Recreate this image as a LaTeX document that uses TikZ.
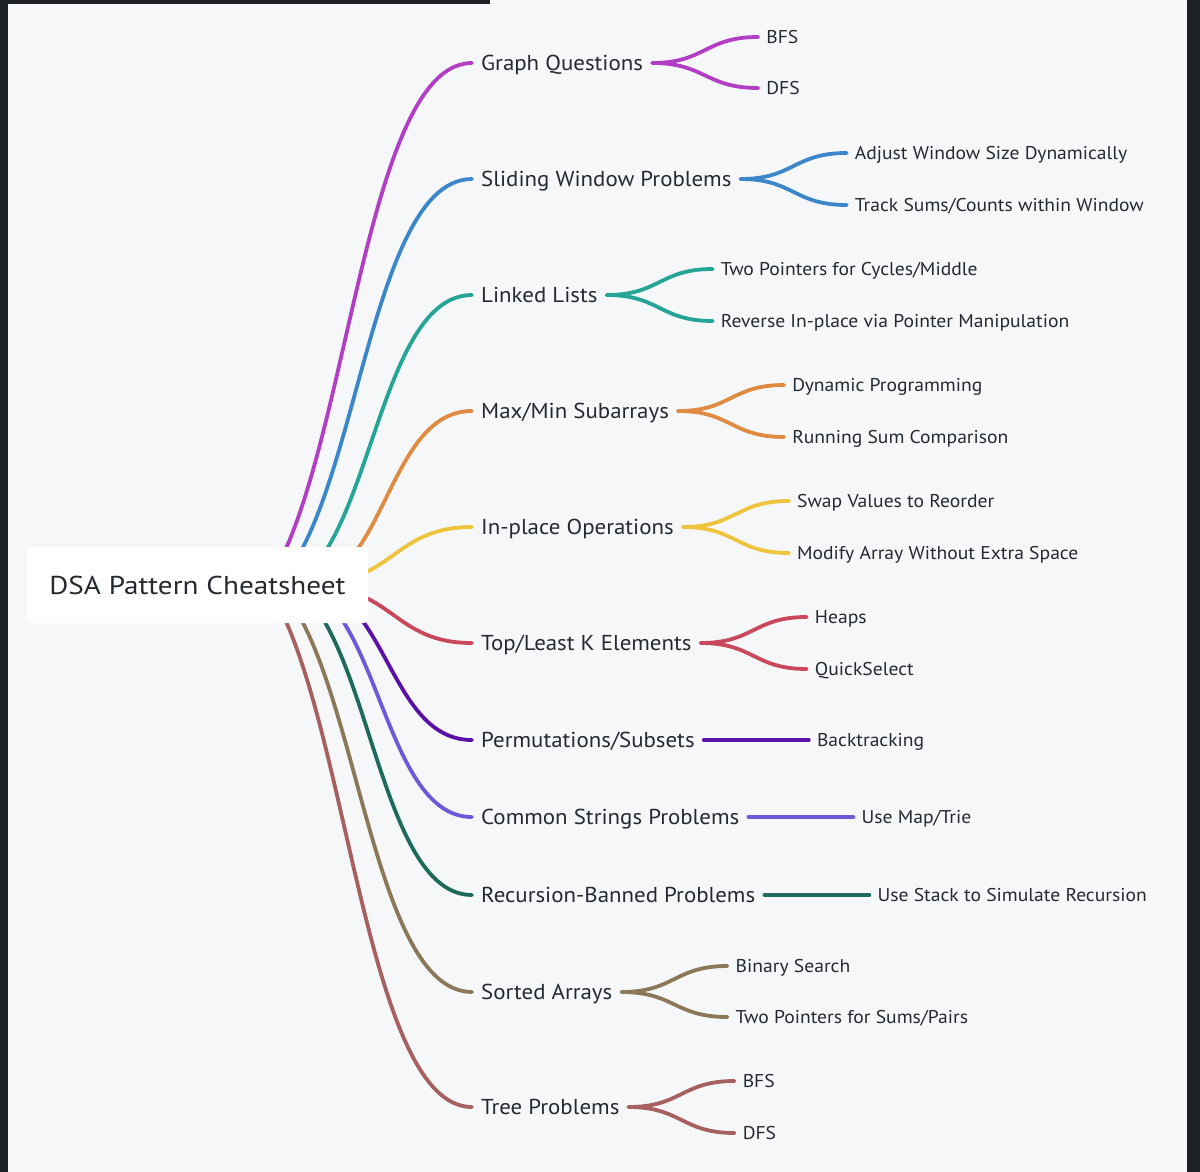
\documentclass[tikz,border=0pt]{standalone}
\usepackage{fontspec}
\setmainfont[FakeStretch=1.06]{PT Sans}
\newfontfamily\rootfont[FakeStretch=1.13]{PT Sans}
\usetikzlibrary{calc}
\pgfdeclarelayer{bg}
\pgfdeclarelayer{links}
\pgfsetlayers{bg,links,main}
\definecolor{ink}{HTML}{252A31}
\definecolor{paper}{HTML}{F6F7F9}
\definecolor{frame}{HTML}{1D2024}
\definecolor{cGraph}{HTML}{B23FC3}
\definecolor{cSlide}{HTML}{3C87C9}
\definecolor{cLink}{HTML}{26A596}
\definecolor{cMax}{HTML}{E08B42}
\definecolor{cInpl}{HTML}{EEC43C}
\definecolor{cTop}{HTML}{C9485B}
\definecolor{cPerm}{HTML}{5A11A5}
\definecolor{cStr}{HTML}{6B5BD9}
\definecolor{cRec}{HTML}{1E6B5D}
\definecolor{cSort}{HTML}{8A7858}
\definecolor{cTree}{HTML}{A5605F}
\newcommand\mmlink[3]{\draw[lk,#1] let \p1=(#2), \p2=(#3) in (\p1) .. controls ({(\x1+\x2)/2},\y1) and ({(\x1+\x2)/2},\y2) .. (\p2);}
\begin{document}
\begin{tikzpicture}[x=1pt,y=-1pt,
  lone/.style={anchor=west, inner xsep=9pt, inner ysep=0pt, text height=15pt, text depth=0pt, font=\fontsize{21.6}{25}\selectfont, text=ink},
  ltwo/.style={anchor=west, inner xsep=8pt, inner ysep=0pt, text height=13pt, text depth=0pt, font=\fontsize{18.5}{22}\selectfont, text=ink},
  rootbox/.style={fill=white, rounded corners=4pt, minimum width=341pt, minimum height=76pt, inner sep=0pt, text height=18pt, text depth=0pt, font=\rootfont\fontsize{25.8}{30}\selectfont, text=ink},
  lk/.style={line width=3.8pt, line cap=round}]
\useasboundingbox (0,0) rectangle (1200,1172);
\begin{pgfonlayer}{bg}
  \fill[frame] (0,0) rectangle (1200,1172);
  \fill[paper] (8,4) rectangle (1187,1172);
  \fill[paper] (490,0) rectangle (1187,4);
\end{pgfonlayer}

% root
\node[rootbox] (root) at (197.5,585) {DSA Pattern Cheatsheet};

% level 1
\node[lone] (g)  at (472,63)   {Graph Questions};
\node[lone] (sw) at (472,179)  {Sliding Window Problems};
\node[lone] (ll) at (472,295)  {Linked Lists};
\node[lone] (mm) at (472,411)  {Max/Min Subarrays};
\node[lone] (ip) at (472,527)  {In-place Operations};
\node[lone] (tk) at (472,643)  {Top/Least K Elements};
\node[lone] (ps) at (472,740)  {Permutations/Subsets};
\node[lone] (cs) at (472,817)  {Common Strings Problems};
\node[lone] (rb) at (472,895)  {Recursion-Banned Problems};
\node[lone] (sa) at (472,992)  {Sorted Arrays};
\node[lone] (tp) at (472,1107) {Tree Problems};

% level 2
\node[ltwo] (g1)  at ($(g.east)+(106,-26)$)  {BFS};
\node[ltwo] (g2)  at ($(g.east)+(106,25)$)   {DFS};
\node[ltwo] (sw1) at ($(sw.east)+(106,-26)$) {Adjust Window Size Dynamically};
\node[ltwo] (sw2) at ($(sw.east)+(106,26)$)  {Track Sums/Counts within Window};
\node[ltwo] (ll1) at ($(ll.east)+(106,-26)$) {Two Pointers for Cycles/Middle};
\node[ltwo] (ll2) at ($(ll.east)+(106,26)$)  {Reverse In-place via Pointer Manipulation};
\node[ltwo] (mm1) at ($(mm.east)+(106,-26)$) {Dynamic Programming};
\node[ltwo] (mm2) at ($(mm.east)+(106,26)$)  {Running Sum Comparison};
\node[ltwo] (ip1) at ($(ip.east)+(106,-26)$) {Swap Values to Reorder};
\node[ltwo] (ip2) at ($(ip.east)+(106,26)$)  {Modify Array Without Extra Space};
\node[ltwo] (tk1) at ($(tk.east)+(106,-26)$) {Heaps};
\node[ltwo] (tk2) at ($(tk.east)+(106,26)$)  {QuickSelect};
\node[ltwo] (ps1) at ($(ps.east)+(105,0)$)   {Backtracking};
\node[ltwo] (cs1) at ($(cs.east)+(105,0)$)   {Use Map/Trie};
\node[ltwo] (rb1) at ($(rb.east)+(105,0)$)   {Use Stack to Simulate Recursion};
\node[ltwo] (sa1) at ($(sa.east)+(106,-26)$) {Binary Search};
\node[ltwo] (sa2) at ($(sa.east)+(106,25)$)  {Two Pointers for Sums/Pairs};
\node[ltwo] (tp1) at ($(tp.east)+(106,-26)$) {BFS};
\node[ltwo] (tp2) at ($(tp.east)+(106,26)$)  {DFS};

% start points of root links (hidden under the root box)
\coordinate (sg)  at (218,617);
\coordinate (ssw) at (240,601);
\coordinate (sll) at (270,590);
\coordinate (smm) at (300,585);
\coordinate (sip) at (315,583);
\coordinate (stk) at (315,587);
\coordinate (sps) at (303,585);
\coordinate (scs) at (287,583);
\coordinate (srb) at (267,578);
\coordinate (ssa) at (240,569);
\coordinate (stp) at (218,553);

\begin{pgfonlayer}{links}
  \mmlink{cGraph}{sg}{g.west}
  \mmlink{cSlide}{ssw}{sw.west}
  \mmlink{cLink}{sll}{ll.west}
  \mmlink{cMax}{smm}{mm.west}
  \mmlink{cInpl}{sip}{ip.west}
  \mmlink{cTop}{stk}{tk.west}
  \mmlink{cPerm}{sps}{ps.west}
  \mmlink{cStr}{scs}{cs.west}
  \mmlink{cRec}{srb}{rb.west}
  \mmlink{cSort}{ssa}{sa.west}
  \mmlink{cTree}{stp}{tp.west}

  \mmlink{cGraph}{g.east}{g1.west}
  \mmlink{cGraph}{g.east}{g2.west}
  \mmlink{cSlide}{sw.east}{sw1.west}
  \mmlink{cSlide}{sw.east}{sw2.west}
  \mmlink{cLink}{ll.east}{ll1.west}
  \mmlink{cLink}{ll.east}{ll2.west}
  \mmlink{cMax}{mm.east}{mm1.west}
  \mmlink{cMax}{mm.east}{mm2.west}
  \mmlink{cInpl}{ip.east}{ip1.west}
  \mmlink{cInpl}{ip.east}{ip2.west}
  \mmlink{cTop}{tk.east}{tk1.west}
  \mmlink{cTop}{tk.east}{tk2.west}
  \draw[lk,cPerm] (ps.east) -- (ps1.west);
  \draw[lk,cStr] (cs.east) -- (cs1.west);
  \draw[lk,cRec] (rb.east) -- (rb1.west);
  \mmlink{cSort}{sa.east}{sa1.west}
  \mmlink{cSort}{sa.east}{sa2.west}
  \mmlink{cTree}{tp.east}{tp1.west}
  \mmlink{cTree}{tp.east}{tp2.west}
\end{pgfonlayer}
\end{tikzpicture}
\end{document}
